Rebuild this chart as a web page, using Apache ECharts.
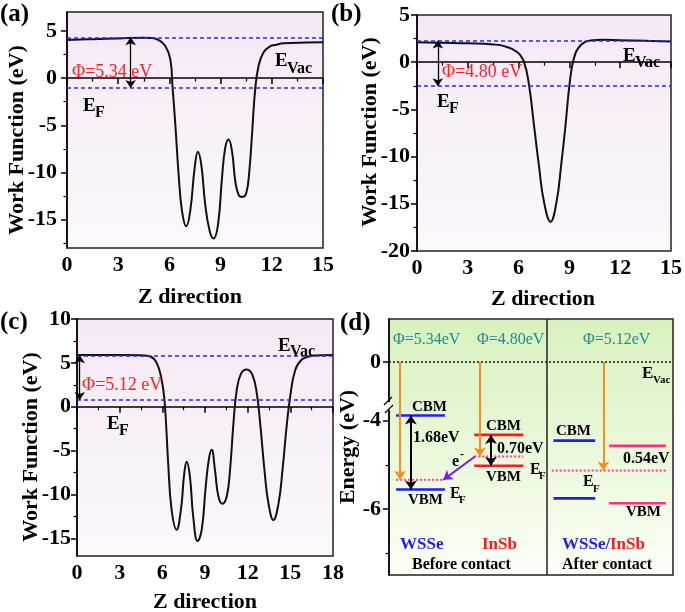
<!DOCTYPE html>
<html>
<head>
<meta charset="utf-8">
<script src="https://cdn.jsdelivr.net/npm/echarts@6/dist/echarts.min.js"></script>
<style>
html, body { margin: 0; padding: 0; background: #fff; }
#main { width: 685px; height: 612px; }
</style>
</head>
<body>
<div id="main"></div>
<script>
// ---- data ----
// (a) WSSe
var zA  = [0, 1.5, 3, 4.5, 5.0, 5.4, 5.76, 6.05, 6.19, 6.35, 6.54, 6.74, 6.99, 7.22, 7.48, 7.67, 7.87, 8.1, 8.36, 8.59, 8.85, 9.08, 9.27, 9.47, 9.67, 9.86, 10.05, 10.25, 10.5, 10.68, 10.84, 11.03, 11.23, 11.52, 11.91, 12.2, 12.7, 14, 15];
var wfA = [4.04, 4.12, 4.2, 4.28, 4.25, 4.0, 3.4, 2.04, -1.12, -4.98, -10.2, -14.1, -15.7, -14.1, -9.5, -7.8, -9.2, -13.4, -16.2, -17.0, -15.5, -10.6, -7.4, -6.5, -7.8, -10.9, -12.35, -12.6, -12.2, -9.9, -6.0, -1.12, 1.34, 2.74, 3.37, 3.5, 3.68, 3.76, 3.79];
// (b) InSb
var zB  = [0, 1.5, 3, 4.5, 5.15, 5.93, 6.32, 6.62, 6.91, 7.2, 7.5, 7.89, 8.24, 8.51, 8.77, 9.0, 9.26, 9.65, 10.24, 11.0, 12, 13.5, 15];
var wfB = [2.12, 2.06, 2.0, 1.88, 1.7, 1.06, 0, -2.47, -6.7, -10.95, -14.8, -16.9, -14.8, -10.95, -6.7, -2.47, 0.36, 1.77, 2.3, 2.37, 2.33, 2.27, 2.2];
// (c) WSSe/InSb
var zC  = [0, 1.5, 3, 4.5, 5.2, 5.6, 5.9, 6.15, 6.41, 6.65, 7.0, 7.31, 7.54, 7.71, 7.94, 8.17, 8.48, 8.77, 9.05, 9.28, 9.47, 9.7, 9.94, 10.22, 10.53, 10.76, 11.0, 11.23, 11.54, 11.94, 12.34, 12.64, 12.88, 13.18, 13.46, 13.81, 14.17, 14.45, 14.76, 14.99, 15.34, 15.81, 16.4, 16.75, 17.3, 18];
var wfC = [5.9, 5.9, 5.9, 5.88, 5.7, 5.0, 3.5, 0.8, -6.4, -11.7, -14.0, -11.7, -7.6, -6.25, -7.95, -12.5, -15.3, -14.0, -9.1, -5.9, -4.9, -7.2, -10.2, -11.06, -10.2, -7.2, -1.9, 1.9, 3.8, 4.25, 3.6, 1.52, -1.9, -7.2, -11.0, -12.9, -11.0, -7.2, -1.9, 1.14, 4.17, 5.39, 5.76, 5.84, 5.88, 5.9];
// vacuum level / Fermi level (dashed lines) for a, b, c
var vacLevel = [4.32, 2.3, 5.87];
var fermiLevel = [-1.05, -2.54, 0.76];
var phiLabels = ['Φ=5.34 eV', 'Φ=4.80 eV', 'Φ=5.12 eV'];
// tick values
var majorA = [-15, -10, -5, 0, 5], minorA = [-17.5, -12.5, -7.5, -2.5, 2.5];
var majorB = [-20, -15, -10, -5, 0, 5], minorB = [-17.5, -12.5, -7.5, -2.5, 2.5];
var majorC = [-15, -10, -5, 0, 5, 10], minorC = [-12.5, -7.5, -2.5, 2.5, 7.5];

// (d) band alignment, energies in eV  [CBM, VBM]
var wsseBefore = [-3.88, -5.56];
var insbBefore = [-4.32, -5.02];
var wsseAfter  = [-4.45, -5.76];
var insbAfter  = [-4.57, -5.87];
var fermiD = [-5.34, -4.81, -5.13];   // WSSe, InSb, contact
var phiD = ['Φ=5.34eV', 'Φ=4.80eV', 'Φ=5.12eV'];
var majorD = [0, -4, -6], minorD = [-5, -7];

// broken energy axis: 0 eV is drawn closer to -4 eV
var breakShift = -2.666;
function brk(e) { return e > -2 ? e + breakShift : e; }

var F = '"Liberation Serif","Times New Roman",serif';
var myChart = echarts.init(document.getElementById('main'));

function bg(c0, c1) {
    return new echarts.graphic.LinearGradient(0, 0, 0, 1, [{offset: 0, color: c0}, {offset: 1, color: c1}]);
}
function pairs(xs, ys) {
    var out = [];
    for (var i = 0; i < xs.length; i++) out.push([xs[i], ys[i]]);
    return out;
}
function xAx(gi, max) {
    return {
        type: 'value', gridIndex: gi, min: 0, max: max, interval: 3,
        axisLine: {lineStyle: {color: '#000', width: 1.5}},
        axisTick: {length: 6, lineStyle: {color: '#000', width: 1.5}},
        minorTick: {show: true, splitNumber: 2, length: 3.5, lineStyle: {color: '#000', width: 1.2}},
        axisLabel: {color: '#000', fontFamily: F, fontWeight: 'bold', fontSize: 22, margin: 6},
        splitLine: {show: false}, minorSplitLine: {show: false}
    };
}
function yAx(gi, min, max, major, margin) {
    return {
        type: 'value', gridIndex: gi, min: min, max: max, position: 'left',
        axisLine: {show: true, lineStyle: {color: '#000', width: 1.5}},
        axisTick: {show: true, length: 6, customValues: major, lineStyle: {color: '#000', width: 1.5}},
        axisLabel: {color: '#000', fontFamily: F, fontWeight: 'bold', fontSize: 22, margin: margin, customValues: major},
        splitLine: {show: false}
    };
}
function yMinor(gi, min, max, minor) {
    return {
        type: 'value', gridIndex: gi, min: min, max: max, position: 'left',
        axisLine: {show: false},
        axisTick: {show: true, length: 3.5, customValues: minor, lineStyle: {color: '#000', width: 1.2}},
        axisLabel: {show: false},
        splitLine: {show: false}
    };
}
var phiArrowX = [3.73, 1.23, 0.19];
function curve(gi, xs, ys, k) {
    return {
        type: 'line', xAxisIndex: gi, yAxisIndex: gi, data: pairs(xs, ys),
        smooth: 0.45, showSymbol: false, silent: true,
        lineStyle: {color: '#111', width: 2},
        markLine: {
            silent: true, symbol: ['none', 'none'], label: {show: false},
            data: [
                {yAxis: vacLevel[k], lineStyle: {color: '#2828ee', type: [4, 3], width: 1.6}},
                {yAxis: fermiLevel[k], lineStyle: {color: '#2828ee', type: [4, 3], width: 1.6}},
                [{coord: [phiArrowX[k], vacLevel[k]], symbol: 'arrow', symbolSize: 8, lineStyle: {color: '#000', type: 'solid', width: 1.3}},
                 {coord: [phiArrowX[k], fermiLevel[k]], symbol: 'arrow', symbolSize: 8}]
            ]
        }
    };
}

function level(ys, x0, x1, color, dotted) {
    return {
        type: 'line', xAxisIndex: 3, yAxisIndex: 3, showSymbol: false, silent: true,
        data: [[x0, brk(ys)], [x1, brk(ys)]],
        lineStyle: {color: color, width: dotted ? 2 : 2.6, type: dotted ? [2, 2] : 'solid'}
    };
}
function arrowD(x0, e0, x1, e1, color, both) {
    return [{coord: [x0, brk(e0)], symbol: both ? 'arrow' : 'none', symbolSize: 9, lineStyle: {color: color, width: 2, type: 'solid'}},
            {coord: [x1, brk(e1)], symbol: 'arrow', symbolSize: 9}];
}

var blue = '#1c1cff', red = '#ff1a1a', pink = '#ff2f86', efPink = '#ff3aa0', orange = '#ff8c1a';

function T(text, x, y, size, color, weight) {
    return {type: 'text', x: x, y: y, z: 50, silent: true,
        style: {text: text, fill: color || '#000', font: (weight || 'bold') + ' ' + size + 'px ' + F,
            align: 'left', textAlign: 'left', verticalAlign: 'middle', textVerticalAlign: 'middle'}};
}
function R(text, x, y, size) {
    return {type: 'text', x: x, y: y, rotation: Math.PI / 2, z: 50, silent: true,
        style: {text: text, fill: '#000', font: 'bold ' + size + 'px ' + F,
            align: 'center', textAlign: 'center', verticalAlign: 'middle', textVerticalAlign: 'middle'}};
}
function C(text, x, y, size) {
    return {type: 'text', x: x, y: y, z: 50, silent: true,
        style: {text: text, fill: '#000', font: 'bold ' + size + 'px ' + F,
            align: 'center', textAlign: 'center', verticalAlign: 'middle', textVerticalAlign: 'middle'}};
}

var pinkBg = bg('#f5e8f5', '#fcf8fc');
var option = {
    animation: false,
    backgroundColor: '#fff',
    grid: [
        {left: 67, top: 12, width: 256, height: 236, show: true, backgroundColor: pinkBg, borderColor: '#222', borderWidth: 1.5},
        {left: 417, top: 15, width: 256, height: 236, show: true, backgroundColor: pinkBg, borderColor: '#222', borderWidth: 1.5},
        {left: 77, top: 319, width: 256, height: 237, show: true, backgroundColor: pinkBg, borderColor: '#222', borderWidth: 1.5},
        {left: 389, top: 319, width: 284, height: 256, show: true, backgroundColor: bg('#d8f1bd', '#fbfff6'), borderColor: '#222', borderWidth: 1.5}
    ],
    xAxis: [
        xAx(0, 15), xAx(1, 15), xAx(2, 18),
        {type: 'value', gridIndex: 3, min: 0, max: 100, show: false}
    ],
    yAxis: [
        yAx(0, -18, 7, majorA, 10),
        yAx(1, -20, 5, majorB, 7),
        yAx(2, -17, 10, majorC, 6),
        {
            type: 'value', gridIndex: 3, min: -7.5, max: -1.69, position: 'left',
            axisLine: {show: true, lineStyle: {color: '#000', width: 1.5}},
            axisTick: {show: true, length: 6, customValues: majorD.map(brk), lineStyle: {color: '#000', width: 1.5}},
            axisLabel: {color: '#000', fontFamily: F, fontWeight: 'bold', fontSize: 22, margin: 8,
                customValues: majorD.map(brk),
                formatter: function (v) { return v > -3 ? '0' : String(Math.round(v)); }},
            splitLine: {show: false}
        },
        yMinor(0, -18, 7, minorA),
        yMinor(1, -20, 5, minorB),
        yMinor(2, -17, 10, minorC),
        yMinor(3, -7.5, -1.69, minorD)
    ],
    series: [
        curve(0, zA, wfA, 0),
        curve(1, zB, wfB, 1),
        curve(2, zC, wfC, 2),
        // vacuum level of (d), with divider and arrows
        {
            type: 'line', xAxisIndex: 3, yAxisIndex: 3, showSymbol: false, silent: true,
            data: [[0, brk(0)], [100, brk(0)]],
            lineStyle: {color: '#111', width: 1.5, type: [2, 2]},
            markLine: {
                silent: true, symbol: ['none', 'none'], label: {show: false},
                data: [
                    {xAxis: 55.7, lineStyle: {color: '#222', width: 1.5, type: 'solid'}},
                    arrowD(3.9, 0, 3.9, fermiD[0], orange, false),
                    arrowD(32.0, 0, 32.0, fermiD[1], orange, false),
                    arrowD(75.5, 0, 75.5, fermiD[2], orange, false),
                    arrowD(7.7, wsseBefore[0], 7.7, wsseBefore[1], '#000', true),
                    arrowD(35.9, insbBefore[0], 35.9, insbBefore[1], '#000', true),
                    arrowD(30.3, fermiD[1], 19.1, fermiD[0], '#7a1fe6', false)
                ]
            }
        },
        level(wsseBefore[0], 2.5, 19.7, blue),
        level(wsseBefore[1], 2.5, 19.7, blue),
        level(fermiD[0], 2.5, 19.0, efPink, true),
        level(insbBefore[0], 30.0, 47.3, red),
        level(insbBefore[1], 30.0, 47.3, red),
        level(fermiD[1], 30.0, 47.3, efPink, true),
        level(wsseAfter[0], 57.9, 72.6, blue),
        level(wsseAfter[1], 57.9, 72.6, blue),
        level(insbAfter[0], 77.5, 97.5, pink),
        level(insbAfter[1], 77.5, 97.5, pink),
        level(fermiD[2], 57.3, 97.5, efPink, true)
    ],
    graphic: [
        T('(a)', 0, 15, 25), T('(b)', 331, 15, 25), T('(c)', 0, 323, 25), T('(d)', 340, 324, 25),
        R('Work Function (eV)', 17, 140, 22), R('Work Function (eV)', 370, 132, 22),
        R('Work Function (eV)', 31, 447, 22), R('Energy (eV)', 348, 447, 22),
        C('Z direction', 190, 297, 22), C('Z direction', 543, 299, 22), C('Z direction', 205, 602, 22),
        T(phiLabels[0], 72, 72, 18, '#ff2020', 'normal'),
        T(phiLabels[1], 442, 72, 18, '#ff2020', 'normal'),
        T(phiLabels[2], 82, 385, 18, '#ff2020', 'normal'),
        T('E', 275, 61, 19), T('Vac', 287, 69, 16),
        T('E', 623, 56, 19), T('Vac', 635, 63, 16),
        T('E', 278, 346, 19), T('Vac', 290, 352, 16),
        T('E', 83, 106, 19), T('F', 95, 113, 16),
        T('E', 437, 102, 19), T('F', 449, 109, 16),
        T('E', 107, 424, 19), T('F', 119, 431, 16),
        // (d)
        T(phiD[0], 393, 340, 16, '#1f8c8c', 'normal'),
        T(phiD[1], 477, 340, 16, '#1f8c8c', 'normal'),
        T(phiD[2], 583, 340, 16, '#1f8c8c', 'normal'),
        T('E', 642, 374, 17), T('Vac', 653, 380, 11),
        T('CBM', 412, 407, 15), T('CBM', 486, 426, 15), T('CBM', 556, 431, 15),
        T('VBM', 408, 500, 15), T('VBM', 486, 477, 15), T('VBM', 626, 512, 15),
        T('1.68eV', 413, 438, 16), T('0.70eV', 497, 449, 16), T('0.54eV', 623, 459, 16),
        T('e', 452, 462, 16), T('-', 460, 455, 12),
        T('E', 450, 494, 16), T('F', 459, 500, 11),
        T('E', 530, 470, 16), T('F', 539, 476, 11),
        T('E', 583, 482, 16), T('F', 593, 489, 11),
        T('WSSe', 400, 545, 17, blue), T('InSb', 482, 545, 17, red),
        T('WSSe/', 562, 545, 17, blue), T('InSb', 610, 545, 17, red),
        T('Before contact', 412, 565, 16), T('After contact', 562, 565, 16),
        // axis break mark on the energy axis
        {type: 'rect', z: 60, silent: true, shape: {x: 386, y: 402, width: 6, height: 8}, style: {fill: '#fff'}},
        {type: 'line', z: 61, silent: true, shape: {x1: 384, y1: 405, x2: 392, y2: 397}, style: {stroke: '#000', lineWidth: 1.3}},
        {type: 'line', z: 61, silent: true, shape: {x1: 385, y1: 413, x2: 393, y2: 405}, style: {stroke: '#000', lineWidth: 1.3}}
    ]
};
myChart.setOption(option);
</script>
</body>
</html>
